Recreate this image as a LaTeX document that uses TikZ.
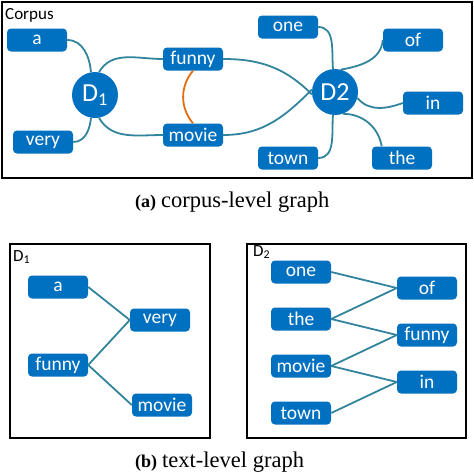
\documentclass[tikz,border=0pt]{standalone}
\usepackage{fontspec}
\setmainfont{Liberation Serif}
\newfontfamily\boxfont{Carlito}
\usetikzlibrary{calc,positioning}
\definecolor{wordblue}{HTML}{0070C0}
\definecolor{linkteal}{HTML}{31849B}
\definecolor{linkorange}{HTML}{E46C0A}
\tikzset{
  word/.style={fill=wordblue, text=white, rounded corners=4pt, minimum width=60pt,
    minimum height=23pt, inner sep=0pt, font=\boxfont\fontsize{19.5}{19.5}\selectfont},
  doc/.style={circle, fill=wordblue, text=white, minimum size=46pt, inner sep=0pt,
    font=\boxfont\fontsize{26}{26}\selectfont},
  link/.style={linkteal, line width=1.8pt},
  frame/.style={line width=2.6pt},
  tag/.style={anchor=west, inner sep=0pt, font=\boxfont\fontsize{17}{17}\selectfont},
}

\begin{document}
\begin{tikzpicture}[x=1pt,y=-1pt]
        \useasboundingbox (0,0) rectangle (474,474);

        % (a) corpus-level graph
        \draw[frame] (2,2) rectangle (472,178);
        \node[tag] (corpus) at (5,15) {Corpus};

        \node[doc] (D1) at (95,95) {D\textsubscript{1}};
        \node[doc] (D2) at (335,92) {D2};
        \node[word] (a) at (37,40) {a};
        \node[word] (very) at (43,142) {very};
        \node[word] (funny) at (193,59) {funny};
        \node[word] (movie) at (193,135) {movie};
        \node[word] (one) at (288,27) {one};
        \node[word] (of) at (413,40) {of};
        \node[word] (in) at (433,103) {in};
        \node[word] (town) at (288,158) {town};
        \node[word] (the) at (402,158) {the};

        \draw[link] (a.east) to[out=0,in=95] (D1.100);
        \draw[link] (very.east) to[out=0,in=-95] (D1.-100);
        \draw[link] (D1.80) to[out=60,in=180] (funny.west);
        \draw[link] (D1.-80) to[out=-60,in=180] (movie.west);
        \draw[link] (funny.east) to[out=0,in=135] (D2.186);
        \draw[link] (movie.east) to[out=0,in=-135] (D2.174);
        \draw[linkorange, line width=1.8pt] (funny.south) to[out=-130,in=130] (movie.north);

        \draw[link] (one.east) to[out=0,in=95] (D2.95);
        \draw[link] (D2.75) to[out=10,in=-95] (of.west);
        \draw[link] (D2.-15) to[out=-50,in=-160] (in.west);
        \draw[link] (town.east) to[out=0,in=-95] (D2.-95);
        \draw[link] (D2.-70) to[out=0,in=100] (the.150);

        \node[anchor=west, inner sep=0pt] (capa) at (135,202)
          {{\fontsize{18}{18}\selectfont\bfseries (a)}\enspace{\fontsize{22.5}{22.5}\selectfont corpus-level graph}};

        % (b) text-level graph, D1
        \draw[frame] (10,244) rectangle (210,438);
        \node[tag] (t1) at (13,257) {D\textsubscript{1}};
        \node[word] (a1) at (58,287) {a};
        \node[word] (very1) at (160,320) {very};
        \node[word] (funny1) at (58,365) {funny};
        \node[word] (movie1) at (162,405) {movie};
        \draw[link] (a1.east) -- (very1.west);
        \draw[link] (funny1.east) -- (very1.west);
        \draw[link] (funny1.east) -- (movie1.west);

        % (b) text-level graph, D2
        \draw[frame] (247,244) rectangle (466,438);
        \node[tag] (t2) at (253,252) {D\textsubscript{2}};
        \node[word] (one2) at (301,272) {one};
        \node[word] (the2) at (301,319) {the};
        \node[word] (movie2) at (301,366) {movie};
        \node[word] (town2) at (301,413) {town};
        \node[word] (of2) at (427,288) {of};
        \node[word] (funny2) at (427,335) {funny};
        \node[word] (in2) at (427,382) {in};
        \draw[link] (one2.east) -- (of2.west);
        \draw[link] (the2.east) -- (of2.west);
        \draw[link] (the2.east) -- (funny2.west);
        \draw[link] (movie2.east) -- (funny2.west);
        \draw[link] (movie2.east) -- (in2.west);
        \draw[link] (town2.east) -- (in2.west);

        \node[anchor=west, inner sep=0pt] (capb) at (135,462)
          {{\fontsize{18}{18}\selectfont\bfseries (b)}\enspace{\fontsize{22.5}{22.5}\selectfont text-level graph}};
    \end{tikzpicture}
\end{document}
